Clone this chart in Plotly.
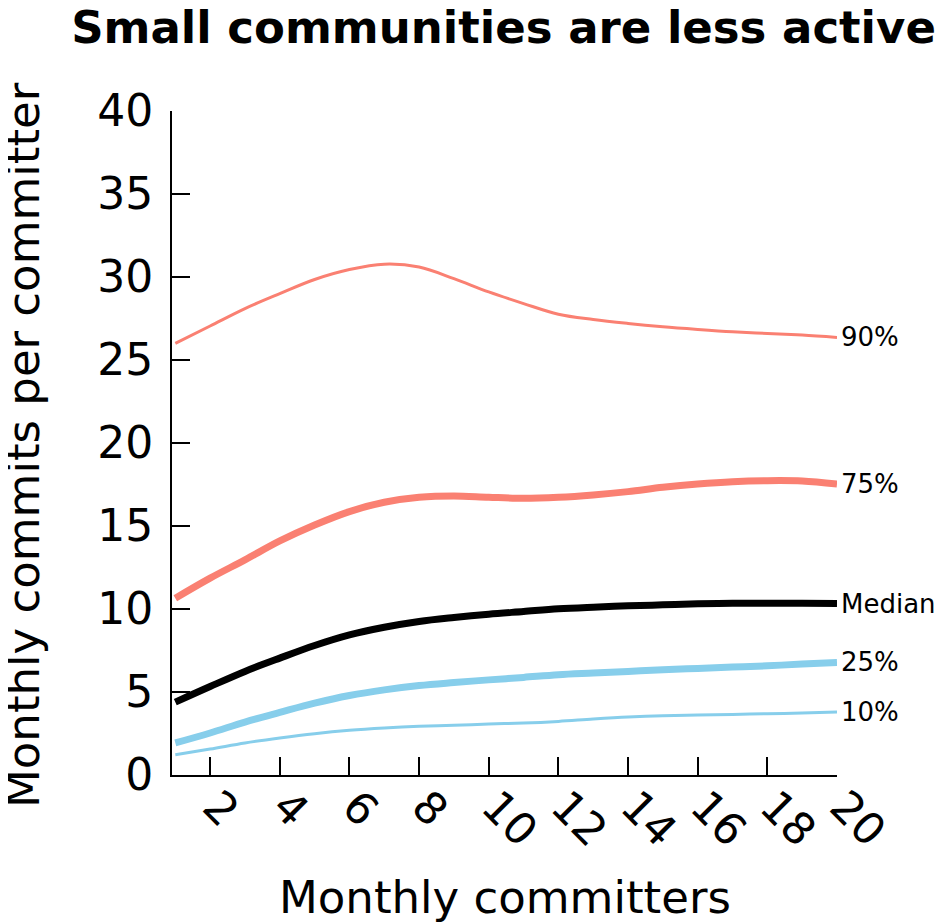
import plotly.graph_objects as go

committers = list(range(1, 21))
p90 = [26.0, 27.05, 28.1, 29.0, 29.85, 30.45, 30.77, 30.6, 29.9, 29.1,
       28.4, 27.76, 27.44, 27.2, 27.0, 26.84, 26.7, 26.6, 26.5, 26.36]
p75 = [10.65, 11.86, 12.96, 14.1, 15.06, 15.87, 16.43, 16.73, 16.81, 16.73,
       16.67, 16.73, 16.87, 17.07, 17.33, 17.53, 17.67, 17.73, 17.71, 17.53]
median = [4.39, 5.33, 6.24, 7.04, 7.8, 8.44, 8.9, 9.25, 9.49, 9.69,
          9.85, 10.01, 10.11, 10.19, 10.25, 10.31, 10.35, 10.35, 10.35, 10.33]
p25 = [1.93, 2.53, 3.19, 3.77, 4.33, 4.79, 5.13, 5.39, 5.57, 5.73,
       5.88, 6.04, 6.14, 6.24, 6.34, 6.42, 6.5, 6.58, 6.68, 6.78]
p10 = [1.22, 1.56, 1.93, 2.23, 2.49, 2.69, 2.83, 2.93, 2.99, 3.07,
       3.13, 3.23, 3.37, 3.49, 3.57, 3.61, 3.65, 3.69, 3.73, 3.79]

series_names = ["90%", "75%", "Median", "25%", "10%"]
series_values = [p90, p75, median, p25, p10]
series_colors = ["#FA8072", "#FA8072", "#000000", "#87CEEB", "#87CEEB"]
series_widths = [3, 7, 7, 7, 3]

x_ticks = list(range(2, 21, 2))
y_ticks = list(range(0, 41, 5))

title_text = "Small communities are less active"
x_title = "Monthly committers"
y_title = "Monthly commits per committer"

FONT = "DejaVu Sans"

fig = go.Figure()
for name, vals, col, w in zip(series_names, series_values, series_colors, series_widths):
    fig.add_trace(go.Scatter(
        x=committers, y=vals, mode="lines", name=name,
        line=dict(color=col, width=w, shape="spline", smoothing=1.0),
        showlegend=False, hoverinfo="skip"))
    fig.add_annotation(
        x=committers[-1], y=vals[-1], xref="x", yref="y",
        text=name, showarrow=False, xanchor="left", yanchor="middle",
        xshift=2, font=dict(family=FONT, size=26, color="black"))

# axis titles
fig.add_annotation(
    x=0.5, y=0, xref="paper", yref="paper", text=x_title, showarrow=False,
    xanchor="center", yanchor="middle", yshift=-122,
    font=dict(family=FONT, size=45, color="black"))
fig.add_annotation(
    x=0, y=0.5, xref="paper", yref="paper", text=y_title, showarrow=False,
    textangle=-90, xanchor="center", yanchor="middle", xshift=-149, yshift=-2,
    font=dict(family=FONT, size=45, color="black"))

fig.update_layout(
    width=935, height=916,
    margin=dict(l=164, r=106, t=103, b=149),
    paper_bgcolor="white", plot_bgcolor="white",
    font=dict(family=FONT, color="black"),
    title=dict(text="<b>" + title_text + "</b>",
               font=dict(family=FONT, size=45, color="black"),
               x=0.530, xanchor="center", xref="container",
               y=0.9795, yanchor="middle", yref="container"),
)

fig.update_xaxes(
    range=[0.905, 20], tickvals=x_ticks, ticktext=[str(v) for v in x_ticks],
    tickangle=45, ticks="inside", ticklen=18, tickwidth=2, tickcolor="black",
    showline=True, linecolor="black", linewidth=2, showgrid=False, zeroline=False,
    tickfont=dict(family=FONT, size=44, color="black"),
    ticklabelstandoff=-14, ticklabelshift=6, automargin=False,
)
fig.update_yaxes(
    range=[0, 40], tickvals=y_ticks, ticktext=[str(v) for v in y_ticks],
    ticks="inside", ticklen=18, tickwidth=2, tickcolor="black",
    showline=True, linecolor="black", linewidth=2, showgrid=False, zeroline=False,
    tickfont=dict(family=FONT, size=44, color="black"), ticklabelstandoff=8,
    automargin=False,
)

fig.write_html("out.html")
